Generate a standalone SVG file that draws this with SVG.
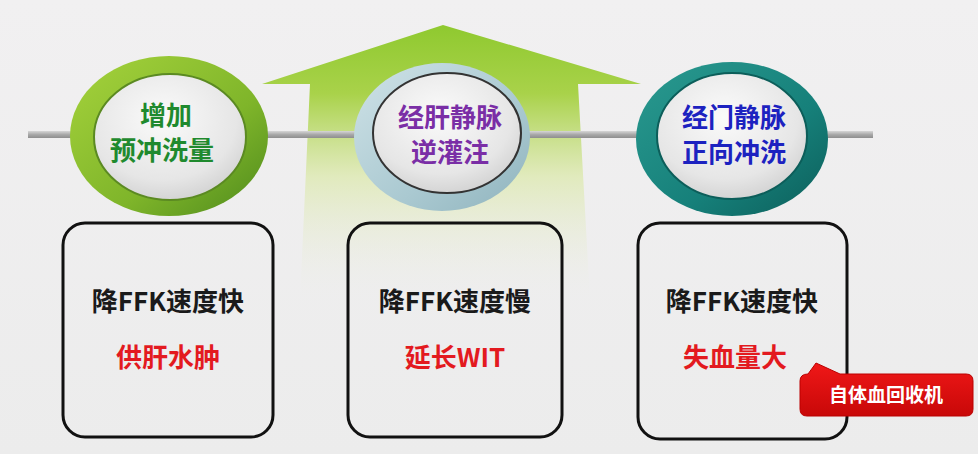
<svg xmlns="http://www.w3.org/2000/svg" width="978" height="454" viewBox="0 0 978 454">
<defs>
<linearGradient id="bg" x1="0" y1="0" x2="0" y2="1"><stop offset="0" stop-color="#f1f0f1"/><stop offset="1" stop-color="#ececec"/></linearGradient>
<linearGradient id="arrowG" x1="0" y1="0" x2="0" y2="1"><stop offset="0" stop-color="#8fc92f"/><stop offset="0.25" stop-color="#a9d24a"/><stop offset="0.55" stop-color="#dde9b0" stop-opacity="0.8"/><stop offset="1" stop-color="#eeeeea" stop-opacity="0"/></linearGradient>
<linearGradient id="lineG" x1="0" y1="0" x2="0" y2="1"><stop offset="0" stop-color="#d6d6d6"/><stop offset="0.5" stop-color="#a9a9a9"/><stop offset="1" stop-color="#8e8e8e"/></linearGradient>
<linearGradient id="ringGreen" x1="0" y1="0" x2="1" y2="1"><stop offset="0" stop-color="#a6d33c"/><stop offset="0.6" stop-color="#7fb52a"/><stop offset="1" stop-color="#4e8a1c"/></linearGradient>
<linearGradient id="ringBlue" x1="0" y1="0" x2="1" y2="1"><stop offset="0" stop-color="#cfe2e7"/><stop offset="0.6" stop-color="#aac9d1"/><stop offset="1" stop-color="#8fb3bd"/></linearGradient>
<linearGradient id="ringTeal" x1="0" y1="0" x2="1" y2="1"><stop offset="0" stop-color="#2a9a90"/><stop offset="0.6" stop-color="#16807a"/><stop offset="1" stop-color="#0c5e5a"/></linearGradient>
<radialGradient id="inner" cx="0.45" cy="0.35" r="0.7"><stop offset="0" stop-color="#fafafa"/><stop offset="0.7" stop-color="#e6e6e6"/><stop offset="1" stop-color="#cfcfcf"/></radialGradient>
<linearGradient id="redG" x1="0" y1="0" x2="0" y2="1"><stop offset="0" stop-color="#f01818"/><stop offset="1" stop-color="#c80808"/></linearGradient>
<style>
.cn{font-family:"Noto Sans CJK SC","Noto Sans",sans-serif;font-weight:bold;text-anchor:middle}
.ct{font-size:26px}
.box{fill:none;stroke:#111;stroke-width:3}
.bt{font-size:26px;fill:#1a1a1a}
.rt{font-size:26px;fill:#e31a1f}
</style>
</defs>
<rect width="978" height="454" fill="url(#bg)"/>
<g id="arrow">
<polygon points="443,25 641,84 578,84 590,300 300,300 310,84 262,84" fill="url(#arrowG)"/>
</g>
<g id="connectors">
<rect x="28" y="131" width="845" height="7" fill="url(#lineG)"/>
</g>
<g id="node1">
<ellipse cx="169" cy="136" rx="99" ry="80" fill="url(#ringGreen)"/>
<ellipse cx="170" cy="137" rx="76" ry="63" fill="url(#inner)" stroke="#5b8a22" stroke-width="2"/>
<text class="cn ct" x="166" y="125" fill="#1f8a2e">增加</text>
<text class="cn ct" x="162" y="160" fill="#1f8a2e">预冲洗量</text>
</g>
<g id="node2">
<ellipse cx="442" cy="137" rx="88" ry="74" fill="url(#ringBlue)"/>
<ellipse cx="447" cy="133" rx="74" ry="60" fill="url(#inner)" stroke="#333" stroke-width="2"/>
<text class="cn ct" x="450" y="127" fill="#7a2ea6">经肝静脉</text>
<text class="cn ct" x="450" y="162" fill="#7a2ea6">逆灌注</text>
</g>
<g id="node3">
<ellipse cx="732" cy="139" rx="96" ry="77" fill="url(#ringTeal)"/>
<ellipse cx="732" cy="136" rx="75" ry="63" fill="url(#inner)" stroke="#0c5e5a" stroke-width="2"/>
<text class="cn ct" x="734" y="127" fill="#1c22c0">经门静脉</text>
<text class="cn ct" x="734" y="162" fill="#1c22c0">正向冲洗</text>
</g>
<g id="box1">
<rect class="box" x="63" y="223" width="210" height="214" rx="22"/>
<text class="cn bt" x="168" y="311">降FFK速度快</text>
<text class="cn rt" x="168" y="367">供肝水肿</text>
</g>
<g id="box2">
<rect class="box" x="348" y="223" width="214" height="214" rx="22"/>
<text class="cn bt" x="455" y="311">降FFK速度慢</text>
<text class="cn rt" x="455" y="367">延长WIT</text>
</g>
<g id="box3">
<rect class="box" x="638" y="223" width="209" height="216" rx="22"/>
<text class="cn bt" x="742" y="311">降FFK速度快</text>
<text class="cn rt" x="735" y="367">失血量大</text>
</g>
<g id="callout">
<path d="M808,374 L816,363 L840,374 L966,374 Q973,374 973,381 L973,409 Q973,416 966,416 L807,416 Q800,416 800,409 L800,381 Q800,374 808,374 Z" fill="url(#redG)" stroke="#b00" stroke-width="1"/>
<text class="cn" x="886" y="402" font-size="19" fill="#ffffff">自体血回收机</text>
</g>
</svg>
